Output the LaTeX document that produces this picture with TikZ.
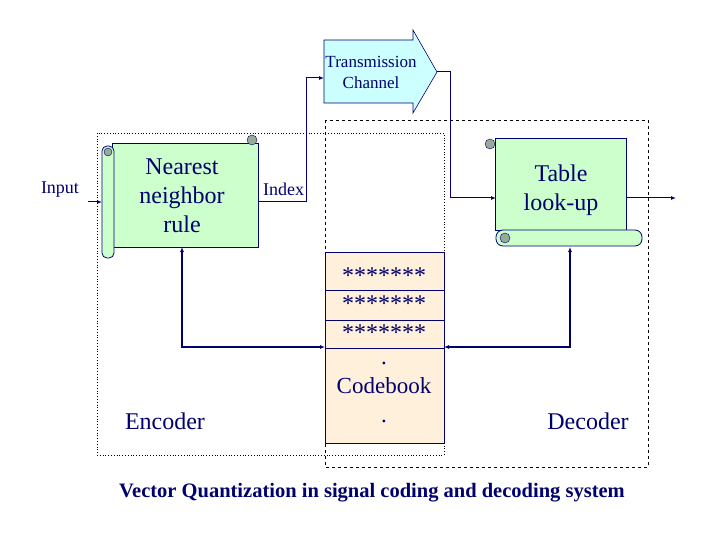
\documentclass[tikz,border=0pt]{standalone}
\usepackage{fontspec}
\setmainfont{Liberation Serif}
\usetikzlibrary{arrows.meta}
\definecolor{navy}{RGB}{0,0,110}
\definecolor{scrollg}{RGB}{204,255,204}
\definecolor{curlg}{RGB}{150,170,150}
\definecolor{chan}{RGB}{204,255,255}
\definecolor{cb}{RGB}{255,240,220}
\tikzset{
 txt/.style={text=navy,align=center,inner sep=0pt},
 big/.style={txt,font=\fontsize{24}{29}\selectfont},
 small/.style={txt,font=\fontsize{18}{21}\selectfont},
 conn/.style={navy,line width=1pt,-{Latex[length=5pt,width=4pt]}},
 bconn/.style={navy,line width=2pt,{Latex[length=5pt,width=4pt]}-{Latex[length=5pt,width=4pt]}},
 scr/.style={draw=navy,fill=scrollg,line width=0.8pt},
}
\begin{document}
\begin{tikzpicture}[x=1pt,y=-1pt]
\useasboundingbox[fill=white] (0,0) rectangle (720,540);
% boxes
\draw[dotted,thick,black] (97,133) rectangle (444,455);
\draw[dashed,black] (325,120) rectangle (648,467);
% codebook
\draw[fill=cb,draw=navy] (325,252) rectangle (444,443);
\foreach \y in {290,320,348} \draw[navy] (325,\y) -- (444,\y);
\node[big] (s1) at (384,276) {*******};
\node[big] (s2) at (384,304) {*******};
\node[big] (s3) at (384,333) {*******};
\node[big,font=\fontsize{23}{29}\selectfont] (cbk) at (384,392) {.\\Codebook\\.};
\coordinate (cbl) at (325,347);
\coordinate (cbr) at (444,347);
% nearest neighbor scroll
\draw[scr] (112,143) rectangle (258,247);
\draw[scr,rounded corners=5pt] (102,146) rectangle (114,258);
\fill[curlg,draw=navy] (108,152) circle (4);
\fill[curlg,draw=navy] (252,140) circle (5);
\node[big] (nn) at (182,196) {Nearest\\neighbor\\rule};
\coordinate (nnl) at (102,202);
\coordinate (nnr) at (258,202);
\coordinate (nnb) at (182,247);
% table look-up scroll
\draw[scr] (495,138) rectangle (626,230);
\draw[scr,rounded corners=7pt] (496,230) rectangle (642,246);
\fill[curlg,draw=navy] (490,144) circle (5);
\fill[curlg,draw=navy] (505,238) circle (5);
\node[big] (tl) at (561,190) {Table\\look-up};
\coordinate (tll) at (496,198);
\coordinate (tlr) at (626,198);
\coordinate (tlb) at (570,247);
% channel
\draw[navy,fill=chan,line width=0.6pt] (324,40) -- (413,40) -- (413,30) -- (437,72) -- (413,113) -- (413,103) -- (324,103) -- cycle;
\node[small,font=\fontsize{17}{21}\selectfont] (ch) at (371,72) {Transmission\\Channel};
\coordinate (chin) at (324,78);
\coordinate (chout) at (437,72);
% input
\node[small] (in) at (60,190) {Input};
\coordinate (inend) at (88,202);
\coordinate (out) at (676,198);
\draw[conn] (inend) -- (nnl);
\draw[conn] (nnr) -- (306,202) |- (chin);
\node[small,anchor=west] (idx) at (263,189) {Index};
\draw[conn] (chout) -- (450,72) |- (tll);
\draw[conn] (tlr) -- (out);
\draw[bconn] (nnb) |- (cbl);
\draw[bconn] (tlb) |- (cbr);
\node[big] (enc) at (165,421) {Encoder};
\node[big] (dec) at (588,421) {Decoder};
\node[txt,font=\bfseries\fontsize{20.5}{24}\selectfont] (title) at (372,493) {Vector Quantization in signal coding and decoding system};
\end{tikzpicture}
\end{document}
